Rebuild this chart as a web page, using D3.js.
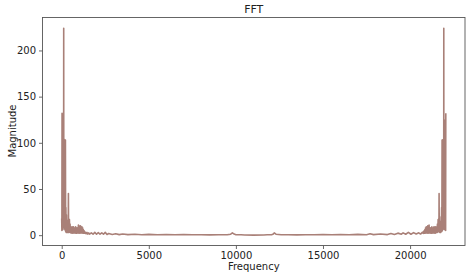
<!DOCTYPE html>
<html><head><meta charset="utf-8">
<script src="https://cdn.jsdelivr.net/npm/d3@7"></script>
<style>body{margin:0;background:#fff}svg{display:block}text{font-family:"DejaVu Sans",sans-serif}</style>
</head><body><svg id="c" width="474" height="274"></svg>
<script>
// Lower half of the spectrum (Hz, magnitude)
const lowFreq = [0,10,20,30,40,50,60,70,80,90,100,110,115,120,130,140,150,160,170,180,190,200,213,225,240,255,270,285,300,315,330,345,360,375,385,395,410,425,443,460,480,500,520,540,560,580,600,620,640,660,680,700,720,740,760,780,800,820,840,860,880,900,920,940,960,980,1000,1020,1040,1060,1080,1100,1120,1140,1160,1180,1200,1220,1240,1260,1280,1300,1320,1340,1360,1400,1450,1500,1550,1600,1700,1800,1900,2000,2100,2200,2300,2400,2500,2600,2700,2900,3100,3300,3500,3800,4200,4600,5000,5500,6000,6500,7000,7500,8000,8500,9000,9500,9700,9800,9900,10000,10300,10500,11025];
const lowMag  = [18,5,132,8,125,10,118,6,110,12,105,30,224,20,104,8,103,10,100,6,103,5,103,4,30,3,22,4,16,3,12,4,10,3,45,4,17,3,17,4,12,3,9,2,8,3,9,2,7,3,9,2,8,3,7,2,9,3,6,2,8,3,7,2,11,3,10,2,9,3,10,2,8,3,9,2,8,3,6,2,5,2,4,2,3,1.5,3,1.2,2.5,1.2,2.5,1,3,1,2.8,1,2.5,1,3,0.8,1.8,0.8,1.5,0.6,1.2,0.6,1,0.5,0.8,0.4,0.7,0.4,0.6,0.4,0.5,0.3,0.5,0.4,1,2.5,1.2,0.5,0.4,0.1,0.05];
// Upper half of the spectrum (Hz, magnitude)
const highFreq = [11600,11800,12050,12150,12200,12300,12600,13000,13500,14000,14500,15000,15500,16000,16500,17000,17500,17700,17900,18300,18700,18900,19100,19300,19500,19600,19750,19900,20050,20200,20350,20500,20600,20700,20750,20770,20790,20810,20830,20850,20870,20890,20910,20930,20950,20970,20990,21010,21030,21050,21070,21090,21110,21130,21150,21170,21190,21210,21230,21250,21270,21290,21310,21330,21350,21370,21390,21410,21430,21450,21470,21490,21510,21530,21550,21570,21590,21610,21625,21640,21655,21665,21675,21690,21705,21720,21735,21750,21765,21780,21795,21810,21825,21837,21850,21860,21870,21880,21890,21900,21910,21920,21930,21935,21940,21950,21960,21970,21980,21990,22000,22010,22020,22030,22040,22050];
const highMag  = [0.1,0.4,0.5,1.2,2.5,1,0.4,0.5,0.3,0.5,0.4,0.6,0.4,0.7,0.4,0.8,0.5,1.5,0.6,1.2,0.6,1.8,0.8,2.2,1,2.5,1,3,1,2.8,1.2,2.5,1.2,3,2,4,2,5,2,6,3,8,2,9,3,8,2,10,3,9,2,11,3,7,2,8,3,6,2,9,3,7,2,8,3,9,2,7,3,9,2,8,3,9,4,12,3,17,4,17,4,45,4,10,3,12,4,15,3,20,4,30,4,103,5,103,8,103,6,100,10,103,8,224,20,104,12,105,6,110,10,118,8,125,5,132,18];

const xTicks = [0,5000,10000,15000,20000];
const yTicks = [0,50,100,150,200];

const freq = lowFreq.concat(highFreq);
const mag = lowMag.concat(highMag);

const svg = d3.select("#c");
const L=42.5,R=465,T=17.5,B=245.5;
const x = d3.scaleLinear().domain([-1102.5,23152.5]).range([L,R]);
const y = d3.scaleLinear().domain([-11.2,235.7]).range([B,T]);

const line = d3.line().x((d,i)=>x(freq[i])).y((d,i)=>y(mag[i]));
svg.append("path").datum(mag).attr("d",line).attr("fill","none")
  .attr("stroke","#a98078").attr("stroke-width",1.6).attr("stroke-linejoin","round");

const xa = svg.append("g").attr("transform",`translate(0,${B})`)
  .call(d3.axisBottom(x).tickValues(xTicks).tickFormat(d3.format("d")).tickSize(3.5).tickPadding(3));
const ya = svg.append("g").attr("transform",`translate(${L},0)`)
  .call(d3.axisLeft(y).tickValues(yTicks).tickFormat(d3.format("d")).tickSize(3.5).tickPadding(3));
[xa,ya].forEach(a=>{a.select(".domain").remove();
  a.selectAll("line").attr("stroke","#444").attr("stroke-width",0.8);
  a.selectAll("text").attr("font-size",10).attr("fill","#222").attr("font-family","DejaVu Sans");});

svg.append("rect").attr("x",L).attr("y",T).attr("width",R-L).attr("height",B-T)
  .attr("fill","none").attr("stroke","#555").attr("stroke-width",0.9);

svg.append("text").attr("x",(L+R)/2).attr("y",13).attr("text-anchor","middle")
  .attr("font-size",11).attr("fill","#222").text("FFT");
svg.append("text").attr("x",(L+R)/2).attr("y",270).attr("text-anchor","middle")
  .attr("font-size",10).attr("fill","#222").text("Frequency");
svg.append("text").attr("transform","translate(16,131) rotate(-90)").attr("text-anchor","middle")
  .attr("font-size",10).attr("fill","#222").text("Magnitude");
</script></body></html>
